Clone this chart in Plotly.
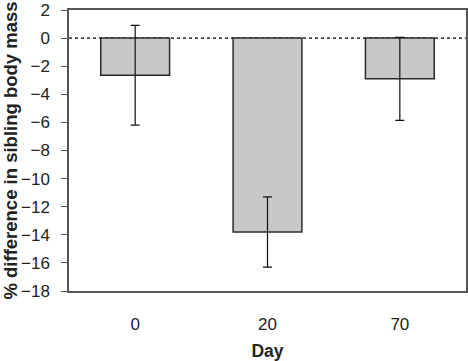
import plotly.graph_objects as go

days = ["0", "20", "70"]
diff_mass = [-2.65, -13.8, -2.9]
err = [3.55, 2.5, 2.95]
y_ticks = [2, 0, -2, -4, -6, -8, -10, -12, -14, -16, -18]

font_family = "Arial, Liberation Sans, sans-serif"

fig = go.Figure()
fig.add_trace(go.Bar(
    x=days, y=diff_mass,
    marker=dict(color="#c8c8c8", line=dict(color="#2a2a2a", width=1.5)),
    error_y=dict(type="data", array=err, color="#111111", thickness=1.2, width=4.5),
    width=0.52,
))

fig.add_hline(y=0, line=dict(color="#444444", width=1.6, dash="dot"), layer="below")

fig.update_layout(
    width=468, height=361,
    margin=dict(l=69, r=2, t=10, b=70),
    paper_bgcolor="white", plot_bgcolor="white",
    showlegend=False,
    font=dict(family=font_family, color="#222222"),
)
fig.update_xaxes(
    automargin=False,
    showline=True, linecolor="#555555", linewidth=1.5, mirror=True,
    ticks="", showgrid=False,
    tickfont=dict(size=17, color="#222222"),
    ticklabelstandoff=17,
    title=dict(text="<b>Day</b>", font=dict(size=17.5, color="#222222"), standoff=14),
)
fig.update_yaxes(
    automargin=False,
    range=[-18, 2], tickvals=y_ticks,
    showline=True, linecolor="#555555", linewidth=1.5, mirror=True,
    ticks="outside", ticklen=6, tickcolor="#555555", showgrid=False, zeroline=False,
    tickfont=dict(size=17, color="#222222"),
    ticklabelstandoff=8,
    title=dict(text="<b>% difference in sibling body mass</b>", font=dict(size=18.5, color="#222222"), standoff=11),
)

fig.write_html("out.html", config={"displayModeBar": False},
               post_script="document.body.style.margin='0';")
